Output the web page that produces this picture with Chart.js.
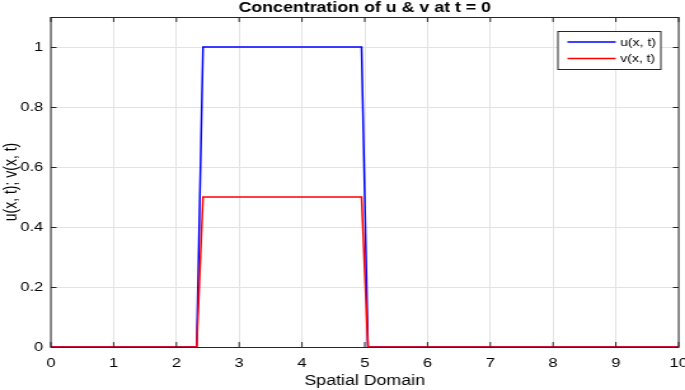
<!DOCTYPE html>
<html>
<head>
<meta charset="utf-8">
<script src="https://cdn.jsdelivr.net/npm/chart.js@4/dist/chart.umd.min.js"></script>
<style>
  html, body { margin: 0; padding: 0; background: #fff; overflow: hidden; }
  /* the reference figure is stretched sideways, so draw narrow and widen */
  #wrap { width: 545px; height: 390px; transform: scaleX(1.27087); transform-origin: 0 0; }
</style>
</head>
<body>
<div id="wrap"><canvas id="conc-chart" width="545" height="390"></canvas></div>
<script>
// step profile breakpoints at t = 0
var xPoints = [0, 2.323, 2.424, 4.949, 5.051, 10];
var uValues = [0, 0, 1, 1, 0, 0];
var vValues = [0, 0, 0.5, 0.5, 0, 0];
var xTicks = [0, 1, 2, 3, 4, 5, 6, 7, 8, 9, 10];
var yTicks = [0, 0.2, 0.4, 0.6, 0.8, 1];
var seriesNames = ['u(x, t)', 'v(x, t)'];
var chartTitle = 'Concentration of u & v at t = 0';

var FONT = '"Liberation Sans", Arial, Helvetica, sans-serif';

function pairs(xs, ys) {
    return xs.map(function (x, i) { return { x: x, y: ys[i] }; });
}

// axes box, inside ticks, title and legend in matlab style
var matlabFrame = {
    id: 'matlabFrame',
    afterDraw: function (chart) {
        var ctx = chart.ctx;
        var a = chart.chartArea;
        var xs = chart.scales.x, ys = chart.scales.y;
        ctx.save();
        ctx.strokeStyle = '#262626';
        ctx.lineWidth = 1;
        ctx.beginPath();
        xTicks.forEach(function (t) {
            var px = xs.getPixelForValue(t);
            ctx.moveTo(px, a.bottom); ctx.lineTo(px, a.bottom - 5);
            ctx.moveTo(px, a.top); ctx.lineTo(px, a.top + 5);
        });
        yTicks.forEach(function (t) {
            var py = Math.round(ys.getPixelForValue(t)) + 0.5;
            ctx.moveTo(a.left, py); ctx.lineTo(a.left + 4.5, py);
            ctx.moveTo(a.right, py); ctx.lineTo(a.right - 4.5, py);
        });
        ctx.stroke();
        ctx.strokeRect(a.left, Math.round(a.top) + 0.5,
            a.right - a.left, Math.round(a.bottom - a.top));

        // title centred over the plot area
        ctx.fillStyle = '#000';
        ctx.font = 'bold 14px ' + FONT;
        ctx.textAlign = 'center';
        ctx.textBaseline = 'middle';
        ctx.fillText(chartTitle, (a.left + a.right) / 2, 8.5);

        // legend box
        var bx = 439, by = 31.5, bw = 81, bh = 38;
        ctx.fillStyle = '#fff';
        ctx.fillRect(bx, by, bw, bh);
        ctx.strokeStyle = '#262626';
        ctx.lineWidth = 1;
        ctx.strokeRect(bx, by, bw, bh);
        ctx.font = '11px ' + FONT;
        ctx.textAlign = 'left';
        chart.data.datasets.forEach(function (ds, i) {
            var ly = by + 10.5 + i * 16.6;
            ctx.strokeStyle = ds.borderColor;
            ctx.lineWidth = 1.5;
            ctx.beginPath();
            ctx.moveTo(bx + 7.5, ly); ctx.lineTo(bx + 45.5, ly);
            ctx.stroke();
            ctx.fillStyle = '#000';
            ctx.fillText(ds.label, bx + 49, ly + 0.5);
        });
        ctx.restore();
    }
};

var canvas = document.getElementById('conc-chart');

var chart = new Chart(canvas, {
    type: 'line',
    data: {
        datasets: [{
            label: seriesNames[0],
            data: pairs(xPoints, uValues),
            borderColor: '#0000ff',
            borderWidth: 1.5,
            pointRadius: 0,
            fill: false,
            tension: 0,
            order: 1
        }, {
            label: seriesNames[1],
            data: pairs(xPoints, vValues),
            borderColor: '#ff0000',
            borderWidth: 1.5,
            pointRadius: 0,
            fill: false,
            tension: 0,
            order: 0
        }]
    },
    options: {
        responsive: false,
        animation: false,
        devicePixelRatio: 1,
        layout: { padding: { left: 0, right: 11, top: 17, bottom: 0 } },
        plugins: {
            legend: { display: false },
            title: { display: false },
            tooltip: { enabled: false }
        },
        scales: {
            x: {
                type: 'linear',
                min: 0,
                max: 10,
                afterBuildTicks: function (s) { s.ticks = xTicks.map(function (v) { return { value: v }; }); },
                afterFit: function (s) { s.height = 43; s.paddingLeft = 0; s.paddingRight = 0; },
                ticks: { color: '#000', font: { family: FONT, size: 13 }, padding: 9, maxRotation: 0 },
                grid: { color: '#e3e3e3', drawTicks: false },
                border: { display: false },
                title: {
                    display: true,
                    text: 'Spatial Domain',
                    color: '#000',
                    font: { family: FONT, size: 14 },
                    padding: { top: 0, bottom: 0 }
                }
            },
            y: {
                min: 0,
                max: 1.1,
                afterBuildTicks: function (s) { s.ticks = yTicks.map(function (v) { return { value: v }; }); },
                afterFit: function (s) { s.width = 40; },
                ticks: {
                    color: '#000',
                    font: { family: FONT, size: 13 },
                    padding: 6,
                    callback: function (v) { return String(Math.round(v * 10) / 10); }
                },
                grid: { color: '#e3e3e3', drawTicks: false },
                border: { display: false },
                title: {
                    display: true,
                    text: 'u(x, t); v(x, t)',
                    color: '#000',
                    font: { family: FONT, size: 14 },
                    padding: { top: 1, bottom: 0 }
                }
            }
        }
    },
    plugins: [matlabFrame]
});
</script>
</body>
</html>
